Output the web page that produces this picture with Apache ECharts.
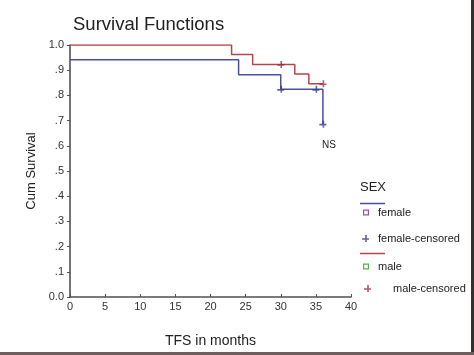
<!DOCTYPE html>
<html>
<head>
<meta charset="utf-8">
<script src="https://cdn.jsdelivr.net/npm/echarts@6/dist/echarts.min.js"></script>
<style>
html,body{margin:0;padding:0;background:#fff;}
#chart{width:474px;height:355px;}
</style>
</head>
<body>
<div id="chart"></div>
<script>
// ---- data ----
var femaleTimes = [0, 24, 30, 36];
var femaleSurv = [0.941, 0.882, 0.824, 0.686];
var femaleCensTimes = [30, 35, 36];
var femaleCensSurv = [0.824, 0.824, 0.686];

var maleTimes = [0, 23, 26, 32, 34, 36];
var maleSurv = [1.0, 0.962, 0.923, 0.885, 0.846, 0.846];
var maleCensTimes = [30, 36];
var maleCensSurv = [0.923, 0.846];

var yTickLabels = ['0.0', '.1', '.2', '.3', '.4', '.5', '.6', '.7', '.8', '.9', '1.0'];
var xTickLabels = ['0', '5', '10', '15', '20', '25', '30', '35', '40'];

var legendNames = ['female', 'female-censored', 'male', 'male-censored'];

function zip(a, b) { return a.map(function (v, i) { return [v, b[i]]; }); }

var FONT = '"Liberation Sans", Arial, sans-serif';
var plus = 'path://M0,3.2H7V4.8H0Z M3.2,0H4.8V7H3.2Z';
var hollowSq = 'path://M0,0H10V10H0Z M2,2V8H8V2Z';
var BLUE = '#4b4fa3', RED = '#b3464c';

var chart = echarts.init(document.getElementById('chart'), null, {renderer: 'canvas'});

function mkLegend(name, icon, color, top, left, pad, size) {
  return {
    data: [{name: name, icon: icon, itemStyle: {color: color}}],
    left: left, top: top, padding: 0,
    itemWidth: size, itemHeight: size,
    selectedMode: false,
    textStyle: {fontFamily: FONT, fontSize: 11, color: '#222', padding: [0, 0, 0, pad]}
  };
}

var option = {
  animation: false,
  backgroundColor: '#fff',
  title: {
    text: 'Survival Functions',
    left: 68, top: 10,
    textStyle: {fontFamily: FONT, fontSize: 18.5, fontWeight: 'normal', color: '#222'}
  },
  grid: {left: 70, right: 123, top: 45, bottom: 58, containLabel: false},
  xAxis: {
    type: 'value', min: 0, max: 40, interval: 5,
    name: 'TFS in months', nameLocation: 'middle', nameGap: 37,
    nameTextStyle: {fontFamily: FONT, fontSize: 14, color: '#222'},
    axisLine: {lineStyle: {color: '#505050', width: 1.6}},
    axisTick: {inside: true, length: 3, lineStyle: {color: '#505050'}},
    splitLine: {show: false},
    axisLabel: {
      fontFamily: FONT, fontSize: 11, color: '#333', margin: 4,
      formatter: function (v) { return xTickLabels[Math.round(v / 5)]; }
    }
  },
  yAxis: {
    type: 'value', min: 0, max: 1, interval: 0.1,
    name: 'Cum Survival', nameLocation: 'middle', nameGap: 31,
    nameTextStyle: {fontFamily: FONT, fontSize: 13, color: '#222'},
    axisLine: {show: true, lineStyle: {color: '#505050', width: 1.6}},
    axisTick: {show: true, inside: false, length: 3, lineStyle: {color: '#505050'}},
    splitLine: {show: false},
    axisLabel: {
      fontFamily: FONT, fontSize: 11, color: '#333', margin: 6,
      formatter: function (v) { return yTickLabels[Math.round(v * 10)]; }
    }
  },
  legend: [
    mkLegend('female', hollowSq, '#a04cb0', 207, 363, 4, 6),
    mkLegend('female-censored', plus, '#3a3c8c', 233, 362, 4, 7),
    mkLegend('male', hollowSq, '#52b052', 261, 363, 4, 6),
    mkLegend('male-censored', plus, '#a3303c', 283, 364, 17, 7)
  ],
  series: [
    {
      name: 'female', type: 'line', step: 'end', showSymbol: false,
      data: zip(femaleTimes, femaleSurv),
      lineStyle: {color: BLUE, width: 1.5}, itemStyle: {color: BLUE}, z: 2
    },
    {
      name: 'female-censored', type: 'scatter', symbol: plus, symbolSize: 7,
      data: zip(femaleCensTimes, femaleCensSurv),
      itemStyle: {color: '#3a3c8c'}, z: 3
    },
    {
      name: 'male', type: 'line', step: 'end', showSymbol: false,
      data: zip(maleTimes, maleSurv),
      lineStyle: {color: RED, width: 1.5}, itemStyle: {color: RED}, z: 2
    },
    {
      name: 'male-censored', type: 'scatter', symbol: plus, symbolSize: 7,
      data: zip(maleCensTimes, maleCensSurv),
      itemStyle: {color: '#a3303c'}, z: 3
    }
  ],
  graphic: [
    {type: 'text', left: 322, top: 140, style: {text: 'NS', font: '10px ' + FONT, fill: '#222'}},
    {type: 'text', left: 360, top: 181, style: {text: 'SEX', font: '13px ' + FONT, fill: '#222'}},
    {type: 'line', shape: {x1: 360, y1: 203.5, x2: 385, y2: 203.5}, style: {stroke: BLUE, lineWidth: 1.5}},
    {type: 'line', shape: {x1: 360, y1: 253.5, x2: 385, y2: 253.5}, style: {stroke: RED, lineWidth: 1.5}},
    {type: 'rect', shape: {x: 471, y: 0, width: 3, height: 355}, style: {fill: '#3b2c2c'}},
    {type: 'rect', shape: {x: 0, y: 352, width: 474, height: 3}, style: {fill: '#6e5e5e'}}
  ]
};
chart.setOption(option);
</script>
</body>
</html>
